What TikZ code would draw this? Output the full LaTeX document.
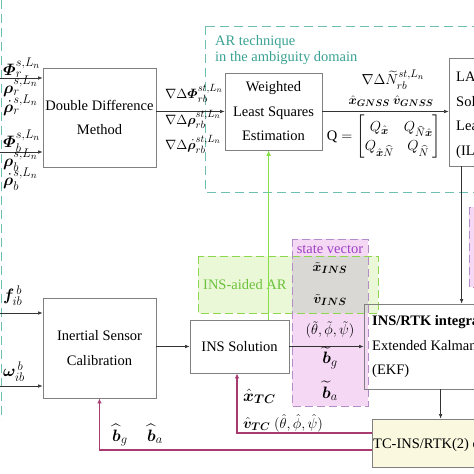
\RequirePackage{fix-cm}
\documentclass[tikz,border=0pt]{standalone}
\usepackage{amsmath}
\usepackage{bm}
\usepackage{fontspec}
\setmainfont{Liberation Serif}
\usetikzlibrary{arrows.meta,calc}
\DeclareMathSizes{12.5}{12.5}{9.5}{7}
\DeclareMathSizes{13.5}{13.5}{10.5}{8}
\DeclareMathSizes{14.5}{14.5}{11}{8.5}
\DeclareMathSizes{16.5}{16.5}{12.5}{9.5}
\definecolor{boxgray}{HTML}{808080}
\definecolor{tealline}{HTML}{6DBFB2}
\definecolor{tealtext}{HTML}{3AA293}
\definecolor{grnline}{HTML}{8FD650}
\definecolor{grnfill}{HTML}{EBF8D8}
\definecolor{grnarrow}{HTML}{86E048}
\definecolor{grntext}{HTML}{6CC23C}
\definecolor{purline}{HTML}{B68CC8}
\definecolor{purfill}{HTML}{F4D8F4}
\definecolor{purtext}{HTML}{A040C4}
\definecolor{graybg}{HTML}{DAD8D4}
\definecolor{magline}{HTML}{A83C70}
\definecolor{tcfill}{HTML}{FAF9E0}
\newcommand\txtfs{\fontsize{14.5}{24.5}\selectfont}
\newcommand\mthfs{\fontsize{14.5}{16}\selectfont}
\newcommand\smfs{\fontsize{13.5}{15}\selectfont}
\newcommand\tnfs{\fontsize{12.5}{14}\selectfont}
\newcommand\bigmfs{\fontsize{16.5}{18}\selectfont}
\begin{document}
\begin{tikzpicture}[x=1pt,y=-1pt,
  box/.style={draw=boxgray, line width=0.8pt, inner sep=0pt, align=center, font=\txtfs},
  txt/.style={inner sep=0pt, font=\txtfs},
  arr/.style={-{Latex[length=4.5pt,width=3.5pt]}, line width=0.6pt, draw=black!80},
  marr/.style={-{Latex[length=5pt,width=4.5pt]}, line width=1.1pt, draw=magline},
  garr/.style={-{Latex[length=5.5pt,width=5pt]}, line width=1.3pt, draw=grnarrow},
  lbl/.style={inner sep=0pt, anchor=base west, font=\mthfs},
  slbl/.style={inner sep=0pt, anchor=base west, font=\smfs},
  blbl/.style={inner sep=0pt, anchor=base west, font=\bigmfs},
  clbl/.style={inner sep=0pt, font=\mthfs},
  regdash/.style={dash pattern=on 8pt off 4pt, line width=0.9pt}]
\useasboundingbox (0,0) rectangle (474,474);
\clip (0,0) rectangle (474,474);
\fill[white] (0,0) rectangle (474,474);

% AR technique region
\draw[tealline, regdash, dash pattern=on 9pt off 5pt] (205,26) rectangle (520,192);
\draw[tealline, regdash, dash pattern=on 9pt off 5pt] (1,0) -- (1,420);
\node[txt, anchor=north west, align=left, text=tealtext, font=\fontsize{14.5}{16.5}\selectfont] (artxt) at (215,35) {AR technique\\in the ambiguity domain};

% right pink region
\fill[purfill] (469,207) rectangle (480,287);
\draw[purline, regdash] (469,207) rectangle (480,287);

% INS-aided AR and state vector regions
\fill[grnfill] (198,256) rectangle (378,313);
\fill[purfill] (292,239) rectangle (368,406);
\fill[graybg] (292,256) rectangle (368,313);
\draw[grnline, regdash] (198,256) rectangle (378,313);
\draw[purline, regdash] (292,239) rectangle (368,406);
\node[txt, anchor=west, text=grntext] (insar) at (203,285) {INS-aided AR};
\node[txt, text=purtext] (svtxt) at (330,249) {state vector};

% blocks
\node[box, fill=white, minimum width=113, minimum height=99] (DD) at (99.5,117.5) {Double Difference\\Method};
\node[box, fill=white, minimum width=97, minimum height=77] (WLS) at (273.5,111.5) {Weighted\\Least Squares\\Estimation};
\node[box, fill=white, minimum width=100, minimum height=108] (LAM) at (499,112) {};
\node[txt, anchor=west, align=left] (LAMt) at (456,115.5) {LAMBDA\\Solution\\Least-squares\\(ILS)};
\node[box, fill=white, minimum width=113, minimum height=100] (ISC) at (99.5,348) {Inertial Sensor\\Calibration};
\node[box, fill=white, minimum width=99, minimum height=53] (INS) at (239.5,346.5) {INS Solution};
\node[box, minimum width=196, minimum height=85] (EKF) at (462,346.5) {};
\node[txt, anchor=west, align=left] (EKFt) at (372,347) {\textbf{INS/RTK integration}\\Extended Kalman Filter\\(EKF)};
\node[box, fill=tcfill, minimum width=188, minimum height=48] (TC) at (466,443) {};
\node[txt, anchor=west] (TCt) at (373,445) {TC-INS/RTK(2) output};

% inputs
\coordinate (i1) at (0,78);
\coordinate (i2) at (0,152);
\coordinate (i3) at (0,313);
\coordinate (i4) at (0,386);
\draw[arr] (i1) -- (i1 -| DD.west);
\draw[arr] (i2) -- (i2 -| DD.west);
\draw[arr] (i3) -- (i3 -| ISC.west);
\draw[arr] (i4) -- (i4 -| ISC.west);

% connectors
\draw[arr] (DD.east |- WLS.west) -- (WLS.west);
\draw[arr] (WLS.east) -- (WLS.east -| LAM.west);
\coordinate (ld) at ($(LAM.south west)+(13,0)$);
\draw[arr] (ld) -- (ld |- EKF.north);
\draw[arr] (ISC.east |- INS.west) -- (INS.west);
\draw[arr] (INS.east) -- (INS.east -| EKF.west);
\coordinate (ed) at ($(EKF.south west)+(77,0)$);
\draw[arr] (ed) -- (ed |- TC.north);
\coordinate (ga) at ($(INS.north west)+(79,0)$);
\draw[garr] (ga) -- (ga |- WLS.south);
\coordinate (m1) at ($(TC.west)+(0,-10)$);
\coordinate (m1t) at ($(INS.south)+(-2.5,0)$);
\draw[marr] (m1) -| (m1t);
\coordinate (m2) at ($(TC.west)+(0,7)$);
\draw[marr] (m2) -| (ISC.south);

% math labels left
\node[blbl] (phir) at (3,75) {$\bm{\varPhi}_r^{s,L_n}$};
\node[blbl] (rhor) at (3,93) {$\bm{\rho}_r^{s,L_n}$};
\node[blbl] (rhodr) at (3,112) {$\dot{\bm{\rho}}_r^{s,L_n}$};
\node[blbl] (phib) at (3,147) {$\bm{\varPhi}_b^{s,L_n}$};
\node[blbl] (rhob) at (3,166) {$\bm{\rho}_b^{s,L_n}$};
\node[blbl] (rhodb) at (3,185) {$\dot{\bm{\rho}}_b^{s,L_n}$};
\node[blbl] (fib) at (3,300) {$\bm{f}_{ib}^{\,b}$};
\node[blbl] (wib) at (3,376) {$\bm{\omega}_{ib}^{\,b}$};

% DD outputs
\node[slbl] (d1) at (165,98) {$\nabla\Delta\bm{\varPhi}_{rb}^{st,L_n}$};
\node[slbl] (d2) at (165,124) {$\nabla\Delta\bm{\rho}_{rb}^{st,L_n}$};
\node[slbl] (d3) at (165,149) {$\nabla\Delta\dot{\bm{\rho}}_{rb}^{st,L_n}$};

% WLS outputs
\node[clbl] (nn) at (393,80) {$\nabla\Delta\widetilde{N}_{rb}^{st,L_n}$};
\node[clbl, font=\tnfs] (xg) at (391,101) {$\hat{\bm{x}}_{\bm{GNSS}}\ \hat{\bm{v}}_{\bm{GNSS}}$};
\node[clbl] (Qm) at (384,137) {\setlength{\arraycolsep}{5pt}\renewcommand{\arraystretch}{1.2}$\mathrm{Q}=\begin{bmatrix}Q_{\hat{\bm x}} & Q_{\widehat{N}\hat{\bm x}}\\ Q_{\hat{\bm x}\widehat{N}} & Q_{\widehat{N}}\end{bmatrix}$};

% state vector
\node[clbl, font=\smfs] (sx) at (330,268) {$\tilde{\bm{x}}_{\bm{INS}}$};
\node[clbl, font=\smfs] (sv) at (330,300) {$\tilde{\bm{v}}_{\bm{INS}}$};
\node[clbl] (sa) at (330,330) {$(\tilde\theta,\tilde\phi,\tilde\psi)$};
\node[clbl, font=\bigmfs] (sbg) at (330,358) {$\widetilde{\bm{b}}_g$};
\node[clbl, font=\bigmfs] (sba) at (330,391) {$\widetilde{\bm{b}}_a$};

% feedback labels
\node[blbl] (xtc) at (243,401) {$\hat{\bm{x}}_{\bm{TC}}$};
\node[lbl] (vtc) at (243,428) {$\hat{\bm{v}}_{\bm{TC}}\ (\hat\theta,\hat\phi,\hat\psi)$};
\node[blbl] (bg) at (112,441) {$\widehat{\bm{b}}_g$};
\node[blbl] (ba) at (147,441) {$\widehat{\bm{b}}_a$};
\end{tikzpicture}
\end{document}
